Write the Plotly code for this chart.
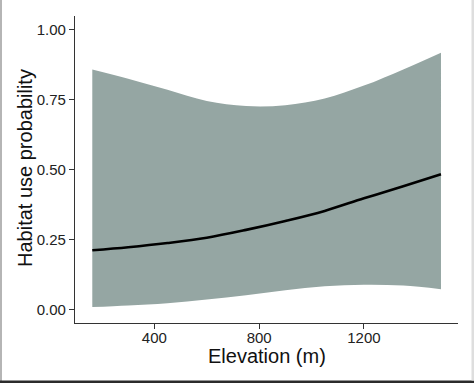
import plotly.graph_objects as go

elevation = [163, 300, 450, 600, 750, 900, 1050, 1200, 1350, 1494]
upper = [0.858, 0.825, 0.785, 0.745, 0.727, 0.730, 0.754, 0.800, 0.858, 0.918]
lower = [0.008, 0.014, 0.022, 0.035, 0.050, 0.068, 0.082, 0.088, 0.085, 0.072]
mean = [0.211, 0.222, 0.237, 0.256, 0.284, 0.316, 0.352, 0.397, 0.440, 0.483]

x_ticks = [400, 800, 1200]
y_ticks = [0.0, 0.25, 0.5, 0.75, 1.0]
y_tick_labels = ["0.00", "0.25", "0.50", "0.75", "1.00"]

ribbon = "#95a6a3"
font = "Liberation Sans, Arial, sans-serif"

W, H = 474, 383
L, R, T, B = 75, 16, 16, 60
PW, PH = W - L - R, H - T - B

def px(x):
    return (x - L) / PW

def py(y):
    return (H - B - y) / PH

fig = go.Figure()
fig.add_trace(go.Scatter(x=elevation, y=upper, mode="lines",
                         line=dict(width=0, shape="spline", color=ribbon),
                         showlegend=False, hoverinfo="skip"))
fig.add_trace(go.Scatter(x=elevation, y=lower, mode="lines",
                         line=dict(width=0, shape="spline", color=ribbon),
                         fill="tonexty", fillcolor=ribbon,
                         showlegend=False, hoverinfo="skip"))
fig.add_trace(go.Scatter(x=elevation, y=mean, mode="lines",
                         line=dict(width=2.6, shape="spline", color="black"),
                         showlegend=False))

axis_common = dict(showline=True, linecolor="#333333", linewidth=1.2,
                   ticks="outside", tickcolor="#333333", ticklen=5, tickwidth=1.2,
                   showgrid=False, zeroline=False, automargin=False,
                   tickfont=dict(family=font, size=15, color="#222222"))

fig.update_layout(
    width=W, height=H,
    margin=dict(l=L, r=R, t=T, b=B),
    paper_bgcolor="white", plot_bgcolor="white",
    xaxis=dict(range=[97, 1559], tickvals=x_ticks, ticklabelstandoff=-4, **axis_common),
    yaxis=dict(range=[-0.049, 1.049], tickvals=y_ticks, ticktext=y_tick_labels,
               **axis_common),
    annotations=[
        dict(text="Elevation (m)", xref="paper", yref="paper", x=px(267), y=py(356),
             xanchor="center", yanchor="middle", showarrow=False,
             font=dict(family=font, size=20, color="#111111")),
        dict(text="Habitat use probability", xref="paper", yref="paper", x=px(25), y=py(168),
             xanchor="center", yanchor="middle", showarrow=False, textangle=-90,
             font=dict(family=font, size=20, color="#111111")),
    ],
    shapes=[
        dict(type="rect", xref="paper", yref="paper", x0=px(0), x1=px(2),
             y0=py(H), y1=py(0), fillcolor="#b5b5b5", line_width=0, layer="above"),
        dict(type="rect", xref="paper", yref="paper", x0=px(0), x1=px(W),
             y0=py(H), y1=py(380.5), fillcolor="#2b2b2b", line_width=0, layer="above"),
        dict(type="rect", xref="paper", yref="paper", x0=px(471.5), x1=px(W),
             y0=py(380.5), y1=py(0), fillcolor="#dedede", line_width=0, layer="above"),
    ],
)

fig.write_html("out.html", config={"displayModeBar": False},
               post_script="document.body.style.margin='0';document.body.style.overflow='hidden';")
